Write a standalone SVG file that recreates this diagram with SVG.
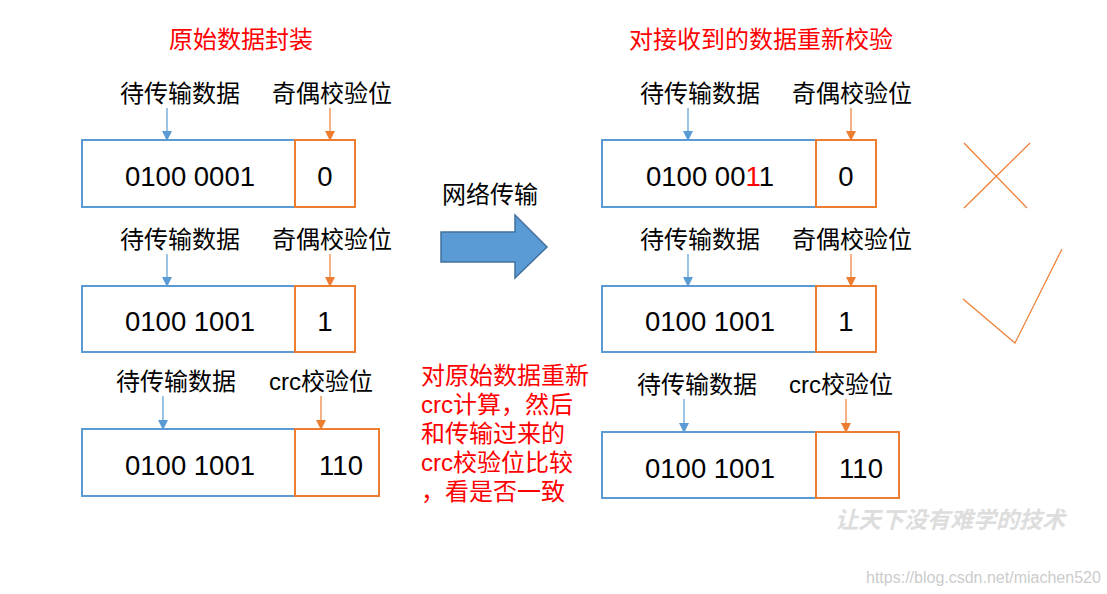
<svg xmlns="http://www.w3.org/2000/svg" width="1107" height="594" viewBox="0 0 1107 594">
<style>
text{font-family:"Liberation Sans","Noto Sans CJK SC",sans-serif;fill:#000}
.t{font-size:24px;text-anchor:middle}
.v{font-size:27.5px;text-anchor:middle}
.red{font-size:24px;fill:#f00}
.b{fill:#fff;stroke:#5B9BD5;stroke-width:2}
.o{fill:#fff;stroke:#ED7D31;stroke-width:2}
.ab{stroke:#5B9BD5;stroke-width:1.2;marker-end:url(#mb)}
.ao{stroke:#ED7D31;stroke-width:1.2;marker-end:url(#mo)}
.mk{stroke:#ED7D31;stroke-width:1.2;fill:none}
</style>
<defs>
<marker id="mb" markerWidth="10" markerHeight="10" refX="9" refY="5" orient="auto" markerUnits="userSpaceOnUse"><path d="M0,0L10,5L0,10z" fill="#5B9BD5"/></marker>
<marker id="mo" markerWidth="10" markerHeight="10" refX="9" refY="5" orient="auto" markerUnits="userSpaceOnUse"><path d="M0,0L10,5L0,10z" fill="#ED7D31"/></marker>
</defs>
<rect width="1107" height="594" fill="#fff"/>
<text class="red" x="241" y="48" text-anchor="middle">原始数据封装</text>
<text class="red" x="761" y="48" text-anchor="middle">对接收到的数据重新校验</text>
<g id="left1"><text class="t" x="180" y="102">待传输数据</text><text class="t" x="332" y="102">奇偶校验位</text>
<rect class="b" x="82" y="140" width="213" height="67"/><rect class="o" x="295" y="140" width="60" height="67"/>
<text class="v" x="190" y="186">0100 0001</text><text class="v" x="325" y="186">0</text></g>
<g id="left2"><text class="t" x="180" y="248">待传输数据</text><text class="t" x="332" y="248">奇偶校验位</text>
<rect class="b" x="82" y="286" width="213" height="66"/><rect class="o" x="295" y="286" width="60" height="66"/>
<text class="v" x="190" y="331">0100 1001</text><text class="v" x="325" y="331">1</text></g>
<g id="left3"><text class="t" x="176" y="390">待传输数据</text><text class="t" x="321" y="390">crc校验位</text>
<rect class="b" x="82" y="429" width="213" height="67"/><rect class="o" x="295" y="429" width="84" height="67"/>
<text class="v" x="190" y="475">0100 1001</text><text class="v" x="341" y="475">110</text></g>
<g id="right1"><text class="t" x="700" y="102">待传输数据</text><text class="t" x="852" y="102">奇偶校验位</text>
<rect class="b" x="602" y="140" width="214" height="67"/><rect class="o" x="816" y="140" width="60" height="67"/>
<text class="v" x="710" y="186">0100 00<tspan fill="#f00">1</tspan>1</text><text class="v" x="846" y="186">0</text></g>
<g id="right2"><text class="t" x="700" y="248">待传输数据</text><text class="t" x="852" y="248">奇偶校验位</text>
<rect class="b" x="602" y="286" width="214" height="66"/><rect class="o" x="816" y="286" width="60" height="66"/>
<text class="v" x="710" y="331">0100 1001</text><text class="v" x="846" y="331">1</text></g>
<g id="right3"><text class="t" x="697" y="393">待传输数据</text><text class="t" x="841" y="393">crc校验位</text>
<rect class="b" x="602" y="432" width="214" height="66"/><rect class="o" x="816" y="432" width="83" height="66"/>
<text class="v" x="710" y="478">0100 1001</text><text class="v" x="861" y="478">110</text></g>
<g id="transfer"><text class="t" x="490" y="203">网络传输</text>
<path d="M441,232H515V215L547,247L515,278V262H441z" fill="#5B9BD5" stroke="#41719C" stroke-width="1.5"/></g>
<g id="note"><text class="red" x="421" y="384">对原始数据重新</text><text class="red" x="421" y="413">crc计算，然后</text><text class="red" x="421" y="442">和传输过来的</text><text class="red" x="421" y="471">crc校验位比较</text><text class="red" x="421" y="500">，看是否一致</text></g>
<g id="marks"><path class="mk" d="M964,208L1030,143M964,143L1027,208"/><path class="mk" d="M963,299L1015,343L1062,249"/></g>
<g id="connectors">
<line class="ab" x1="167" y1="108" x2="167" y2="140"/><line class="ao" x1="330" y1="108" x2="330" y2="140"/>
<line class="ab" x1="167" y1="254" x2="167" y2="286"/><line class="ao" x1="330" y1="254" x2="330" y2="286"/>
<line class="ab" x1="163" y1="396" x2="163" y2="429"/><line class="ao" x1="321" y1="396" x2="321" y2="429"/>
<line class="ab" x1="688" y1="108" x2="688" y2="140"/><line class="ao" x1="851" y1="108" x2="851" y2="140"/>
<line class="ab" x1="688" y1="254" x2="688" y2="286"/><line class="ao" x1="851" y1="254" x2="851" y2="286"/>
<line class="ab" x1="684" y1="399" x2="684" y2="432"/><line class="ao" x1="846" y1="399" x2="846" y2="432"/>
</g>
<text x="835" y="528" style="font-size:23px;fill:#ddd;font-style:italic;font-weight:bold">让天下没有难学的技术</text>
<text x="866" y="583" style="font-size:16px;fill:#ccc">https://blog.csdn.net/miachen520</text>
</svg>
